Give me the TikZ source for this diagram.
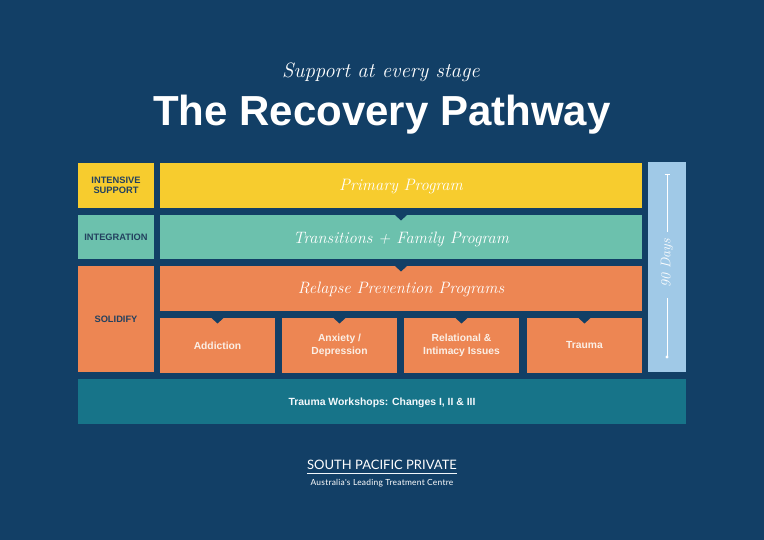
\documentclass[tikz,border=0pt]{standalone}
\usepackage{fontspec}
\newfontfamily\sans{Liberation Sans}
\newfontfamily\logo{Lato}
\newfontfamily\logowide[LetterSpace=3]{Lato}
\definecolor{bgnavy}{HTML}{123F66}
\definecolor{pyellow}{HTML}{F7CC2E}
\definecolor{pteal}{HTML}{6CC1AD}
\definecolor{porange}{HTML}{ED8653}
\definecolor{pblue}{HTML}{A0C9E7}
\definecolor{dteal}{HTML}{177489}
\definecolor{labtext}{HTML}{23415F}
\definecolor{subtext}{HTML}{FBEFE6}
\tikzset{
  blk/.style={rectangle, inner sep=0pt, outer sep=0pt, draw=none, anchor=north west, align=center},
  lab/.style={blk, font=\sans\bfseries\fontsize{9.3}{10.5}\selectfont, text=labtext},
  scr/.style={font=\rmfamily\itshape\fontsize{16.5}{18}\selectfont, text=white, inner sep=0pt},
  sub/.style={blk, fill=porange, minimum width=115pt, minimum height=55pt, font=\sans\bfseries\fontsize{10.3}{12.5}\selectfont, text=subtext},
  notch/.style={fill=bgnavy}
}
\begin{document}
\begin{tikzpicture}[x=1pt, y=-1pt]
\fill[bgnavy] (0,0) rectangle (764,540);
\useasboundingbox (0,0) rectangle (764,540);
% titles
\node[font=\rmfamily\itshape\fontsize{20.8}{23}\selectfont, text=white, anchor=base] (tag) at (381,78) {Support at every stage};
\node[font=\sans\bfseries\fontsize{42}{44}\selectfont, text=white, anchor=base] (title) at (382,126) {The Recovery Pathway};
% left labels
\node[lab, fill=pyellow, minimum width=76pt, minimum height=45pt] (int) at (78,163) {INTENSIVE\\SUPPORT};
\node[lab, fill=pteal, minimum width=76pt, minimum height=44pt] (integ) at (78,215) {INTEGRATION};
\node[lab, fill=porange, minimum width=76pt, minimum height=106pt] (sol) at (78,266) {SOLIDIFY};
% programs
\node[blk, fill=pyellow, minimum width=482pt, minimum height=45pt] (prim) at (160,163) {};
\node[scr] at ([yshift=-1pt]prim.center) {Primary Program};
\node[blk, fill=pteal, minimum width=482pt, minimum height=44pt] (trans) at (160,215) {};
\node[scr] at ([yshift=-2pt]trans.center) {Transitions + Family Program};
\node[blk, fill=porange, minimum width=482pt, minimum height=45pt] (rel) at (160,266) {};
\node[scr] at ([yshift=-1pt]rel.center) {Relapse Prevention Programs};
% sub programs
\node[sub] (add) at (160,318) {Addiction};
\node[sub] (anx) at (282,318) {Anxiety /\\Depression};
\node[sub] (rint) at (404,318) {Relational \&\\Intimacy Issues};
\node[sub] (trm) at (527,318) {Trauma};
% notches
\foreach \n in {trans, rel, add, anx, rint, trm}{
  \fill[notch] ([xshift=-6pt]\n.north) -- ([xshift=6pt]\n.north) -- ([yshift=-5.5pt]\n.north) -- cycle;
}
% 90 days bar
\node[blk, fill=pblue, minimum width=38pt, minimum height=210pt] (days) at (648,162) {};
\node[font=\rmfamily\itshape\fontsize{14}{15}\selectfont, text=white, rotate=90, inner sep=0pt] (dtxt) at (667,263) {90 Days};
\coordinate (dtop) at ([yshift=-12pt]days.north);
\coordinate (dbot) at ([yshift=15pt]days.south);
\coordinate (gtop) at (667,232);
\coordinate (gbot) at (667,298);
\draw[white, line width=0.8pt] (dtop) -- (gtop);
\draw[white, line width=0.8pt] (gbot) -- (dbot);
\draw[white, line width=0.8pt] ([xshift=-2.5pt]dtop) -- ([xshift=2.5pt]dtop);
\fill[white] (dbot) circle (1.6pt);
% workshops
\node[blk, fill=dteal, minimum width=608pt, minimum height=45pt] (work) at (78,379) {};
\node[font=\sans\bfseries\fontsize{10.4}{12}\selectfont, text=white!88!pblue, inner sep=0pt] at ([yshift=-1.5pt]work.center) {Trauma Workshops: Changes I, II \& III};
% footer
\node[font=\logo\fontsize{13}{14}\selectfont, text=white, anchor=base, inner sep=0pt] (brand) at (382,469.5) {SOUTH PACIFIC PRIVATE};
\draw[white!85!pblue, line width=0.7pt] ([yshift=-4pt]brand.base west) -- ([yshift=-4pt]brand.base east);
\node[font=\logowide\fontsize{8.4}{9}\selectfont, text=white, anchor=base, inner sep=0pt] (tagl) at (382,485.5) {Australia's Leading Treatment Centre};
\end{tikzpicture}
\end{document}
